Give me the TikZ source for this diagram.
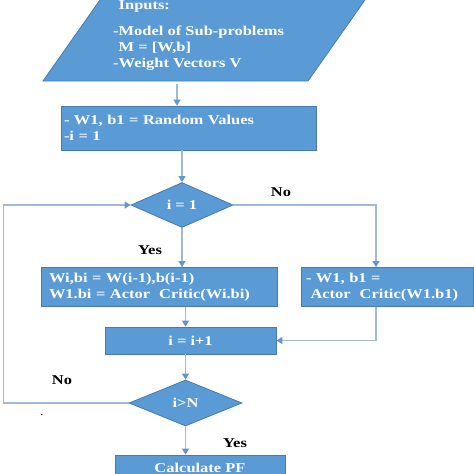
\documentclass[tikz,border=0pt]{standalone}
\usepackage{fontspec}
\setmainfont{Liberation Serif}[FakeStretch=1.22]
\usetikzlibrary{shapes.geometric,arrows.meta}
\definecolor{boxfill}{RGB}{91,155,213}
\definecolor{boxline}{RGB}{72,122,178}
\definecolor{flowline}{RGB}{160,186,214}
\definecolor{flowtip}{RGB}{98,150,205}
\tikzstyle{stepbox}=[draw=boxline, fill=boxfill, line width=0.8pt, text=white, font=\bfseries\fontsize{13.5}{15.5}\selectfont, inner sep=0pt]
\tikzstyle{decision}=[stepbox, diamond, aspect=2.3]
\tikzstyle{flow}=[draw=flowline, line width=1.1pt, -{Triangle[width=7pt,length=6pt,color=flowtip]}]
\tikzstyle{answer}=[font=\bfseries\fontsize{13.5}{15.5}\selectfont]

\begin{document}
\begin{tikzpicture}[x=1pt, y=-1pt]
    \useasboundingbox (0,0) rectangle (474,474);
    \clip (0,0) rectangle (474,474);

    % inputs
    \fill[boxfill, draw=boxline, line width=0.8pt]
        (43,81) -- (308,81) -- (379,-20) -- (114,-20) -- cycle;
    \coordinate (inp) at (177,81);
    \node[anchor=north west, text=white, align=left, inner sep=0pt,
        font=\bfseries\fontsize{13.5}{16}\selectfont] (inputs) at (113,0)
        {\phantom{-}Inputs:\\[10pt]
         -Model of Sub-problems\\
         \phantom{-}M = [W,b]\\
         -Weight Vectors V};

    \node[stepbox, minimum width=255, minimum height=44, text width=249,
        align=left] (init) at (188.5,128)
        {- W1, b1 = Random Values\\-i = 1};
    \node[decision, minimum width=102, minimum height=45] (first) at (182,205) {i = 1};
    \node[stepbox, minimum width=236, minimum height=39, text width=220,
        align=left] (next) at (159,287)
        {Wi,bi = W(i-1),b(i-1)\\W1.bi = Actor\ \ Critic(Wi.bi)};
    \node[stepbox, minimum width=172, minimum height=39, text width=162,
        align=left] (rand) at (387,287)
        {- W1, b1 =\\\ Actor\ \ Critic(W1.b1)};
    \node[stepbox, minimum width=171, minimum height=27] (incr) at (190.5,340.5) {i = i+1};
    \node[decision, minimum width=113, minimum height=46] (last) at (185.5,403) {i>N};
    \node[stepbox, minimum width=170, minimum height=26] (pf) at (200,468) {Calculate PF};

    \draw[flow] (inp) ++(0,3) -- (init.north -| inp);
    \draw[flow] (init.south -| first) -- (first.north);
    \draw[flow] (first.south) -- (first |- next.north);
    \draw[flow] (first.east) -| ([xshift=-11pt]rand.north);
    \draw[flow] (next.south -| last) -- (last |- incr.north);
    \draw[flow] ([xshift=-11pt]rand.south) |- (incr.east);
    \draw[flow] (incr.south -| last) -- (last.north);
    \draw[flow] (last.west) -- ++(-125,0) |- (first.west);
    \draw[flow] (last.south) -- (last |- pf.north);

    \node[answer] (no1) at (281,192) {No};
    \node[answer] (yes1) at (150,250) {Yes};
    \node[answer] (no2) at (62,380) {No};
    \node[answer] (yes2) at (235,443) {Yes};
    \node[inner sep=0pt] (dot) at (42,415) {.};
\end{tikzpicture}
\end{document}
